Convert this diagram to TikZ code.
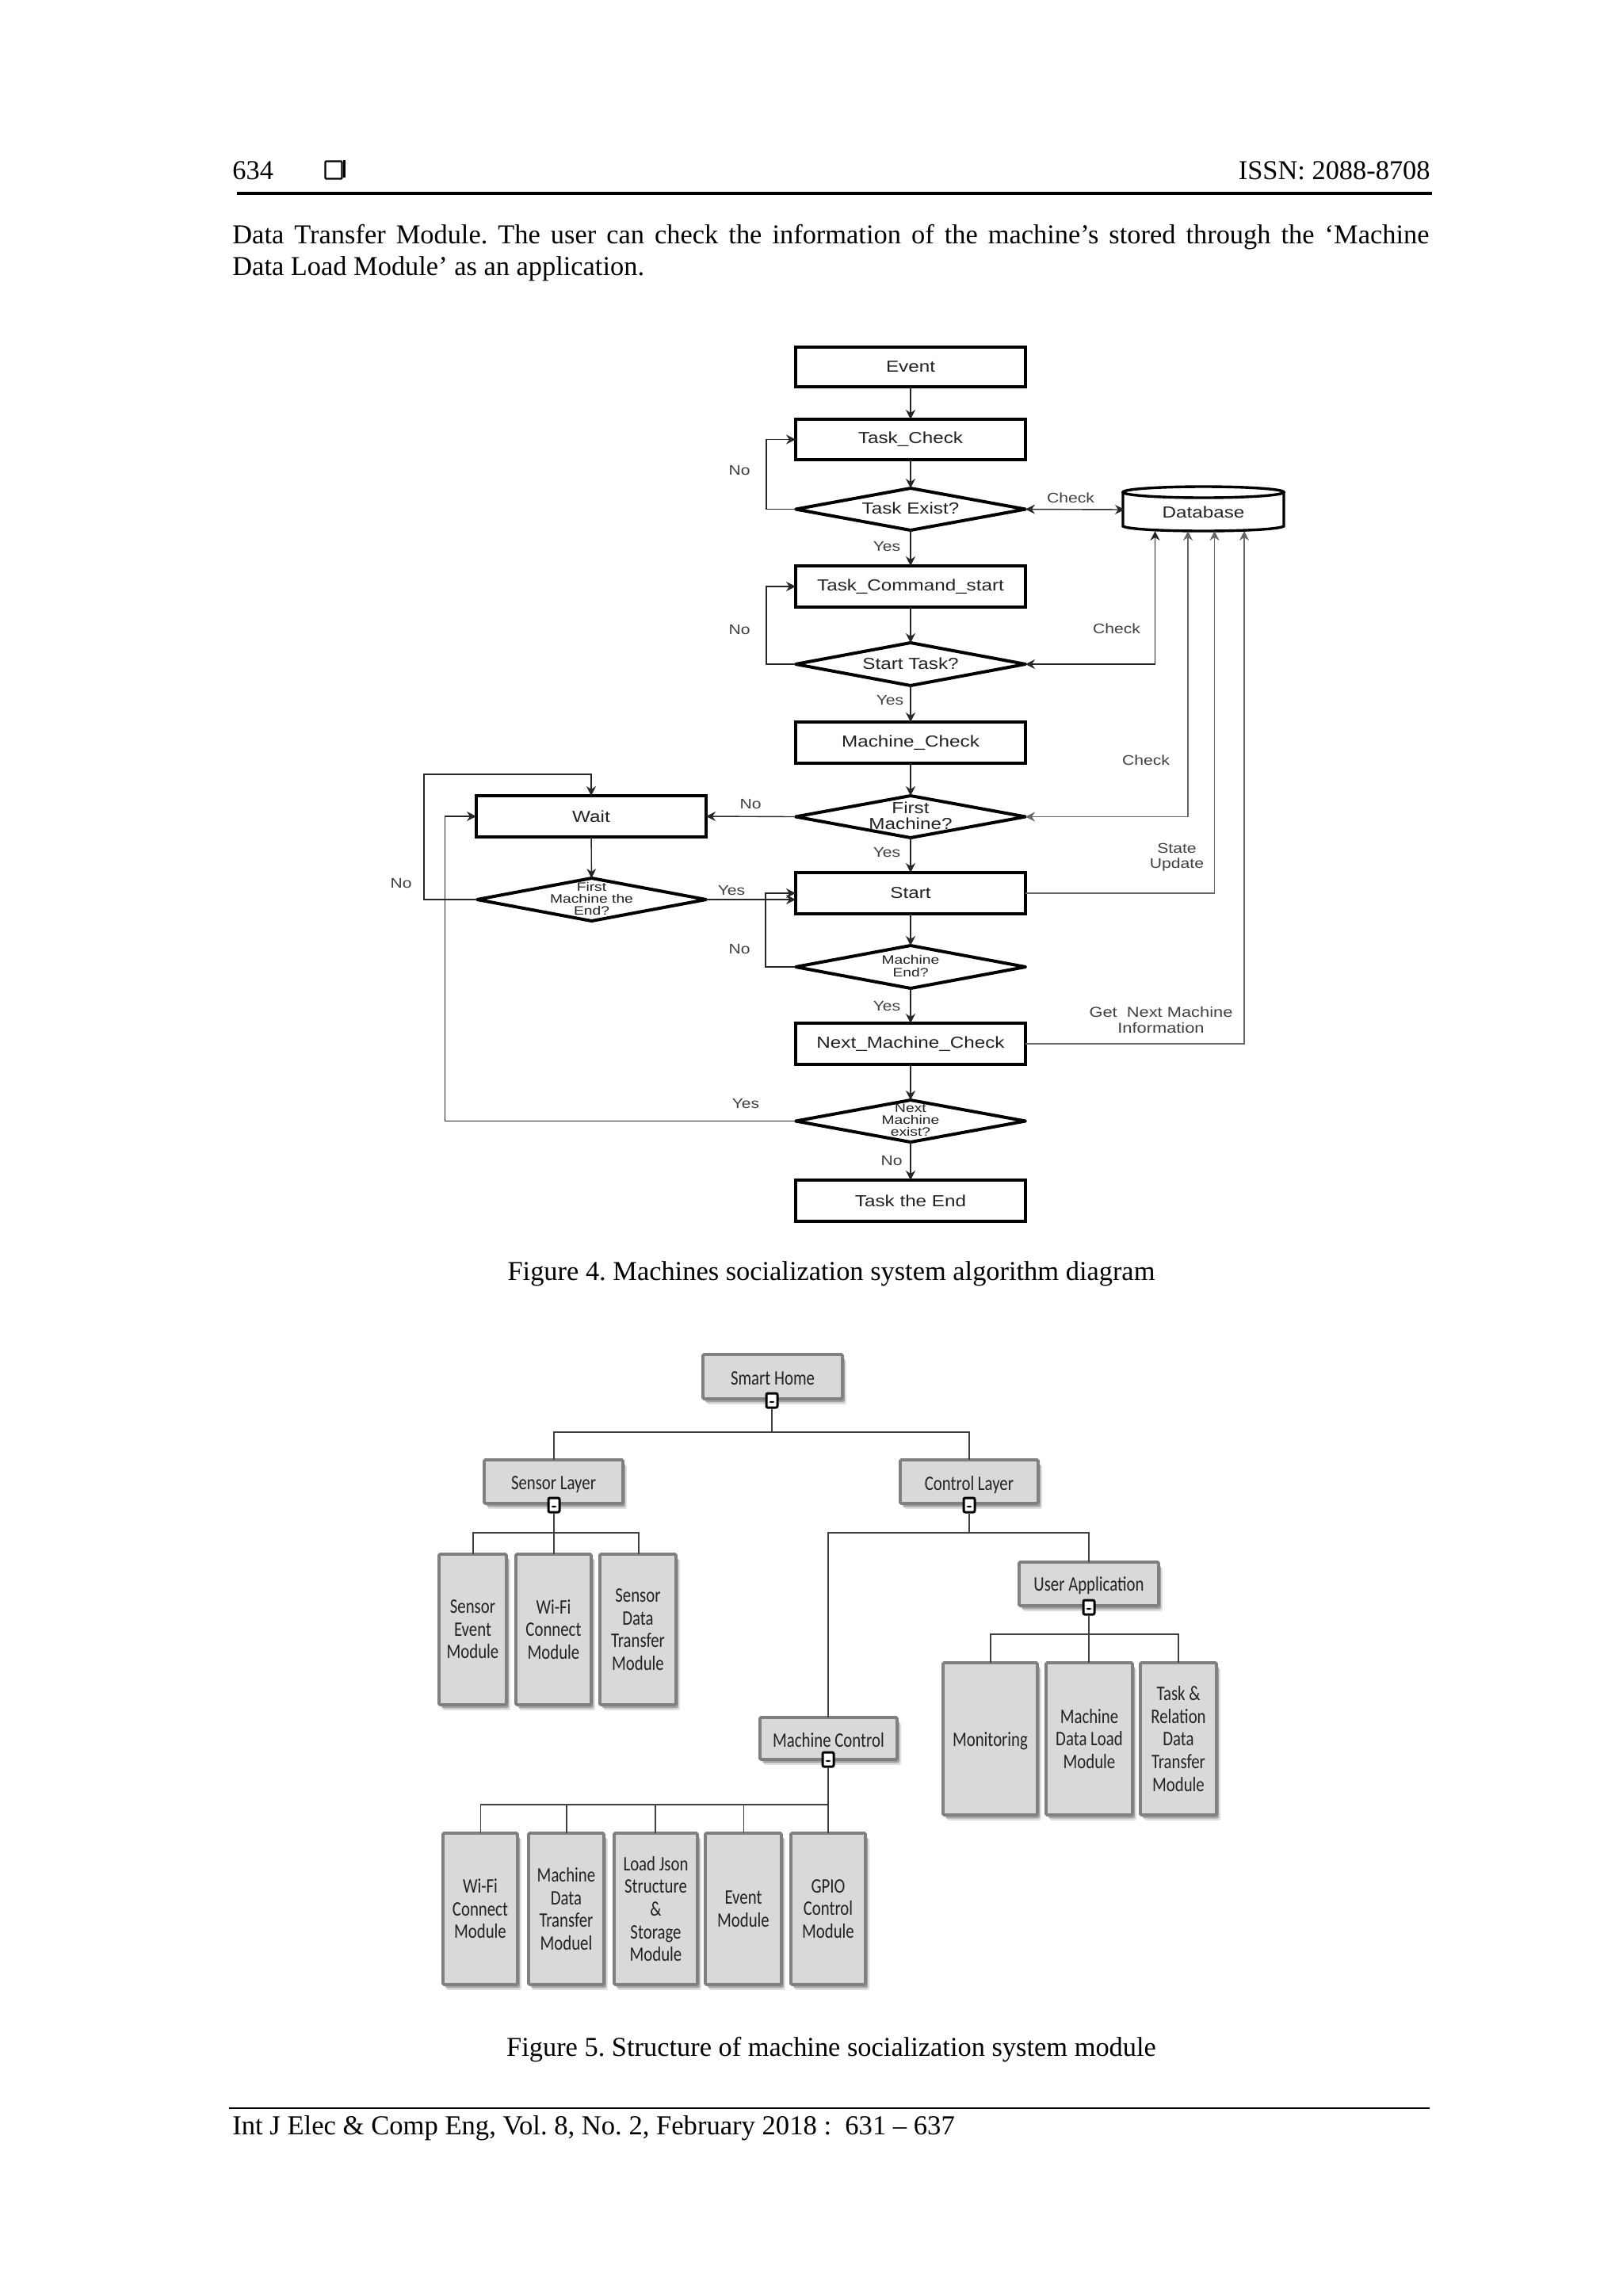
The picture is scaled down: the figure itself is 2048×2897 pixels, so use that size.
\documentclass[tikz,border=0pt]{standalone}
\usepackage{fontspec}
\usetikzlibrary{shapes.geometric,arrows.meta,shadows}
\setmainfont{Liberation Serif}
\newfontfamily\fflow[FakeStretch=1.2]{Liberation Sans}
\newfontfamily\fsmall[FakeStretch=1.25]{Liberation Sans}
\newfontfamily\fmod[FakeStretch=.8]{Carlito}
\definecolor{modfill}{HTML}{D9D9DB}
\definecolor{modline}{HTML}{808080}
\definecolor{ink}{HTML}{222222}
\newcommand{\dnn}[2]{\raisebox{0pt}[\dimexpr\height+#1*2\relax]{#2}}
\newcommand{\bxx}[7]{%
  \pgfmathsetmacro\bCX{(#3+#5)/2}\pgfmathsetmacro\bCY{(#4+#6)/2}%
  \pgfmathsetmacro\bW{(#5-#3)*0.5-2}\pgfmathsetmacro\bH{(#6-#4)*0.5-2}%
  \node[#1,minimum width=\bW pt,minimum height=\bH pt] (#2) at (\bCX,\bCY) {#7};}
\newcommand{\dmm}[7]{%
  \pgfmathsetmacro\bCX{(#3+#5)/2}\pgfmathsetmacro\bCY{(#4+#6)/2}%
  \pgfmathsetmacro\bW{(#5-#3)*0.5-2}\pgfmathsetmacro\bH{(#6-#4)*0.5-2}%
  \node[dmshape,minimum width=\bW pt,minimum height=\bH pt] (#2) at (\bCX,\bCY)
   {\makebox[0pt][c]{\smash{\raisebox{-.2em}{\parbox[c]{140pt}{\centering #1 #7}}}}};}
\tikzset{
  flowbox/.style={draw=black,line width=2.2pt,fill=white,inner sep=0pt,outer sep=0pt,align=center,font=\fflow\fontsize{10.1}{12}\selectfont,text=ink},
  dmshape/.style={diamond,draw=black,line width=2pt,line join=round,fill=white,inner sep=0pt,outer sep=0pt,text=ink},
  arr/.style={draw=black!85,line width=.7pt,-{Stealth[length=6pt,width=6pt,inset=2pt]}},
  darr/.style={arr,{Stealth[length=6pt,width=6pt,inset=2pt]}-{Stealth[length=6pt,width=6pt,inset=2pt]}},
  lab/.style={inner sep=0pt,align=center,text=black!75,font=\fflow\fontsize{8.8}{9.6}\selectfont},
  modbox/.style={draw=modline,line width=1.9pt,fill=modfill,inner sep=0pt,outer sep=0pt,align=center,text=ink,rounded corners=.8pt,
     font=\fmod\fontsize{13}{14.3}\selectfont,
     drop shadow={shadow xshift=2.4pt,shadow yshift=-3.4pt,opacity=.18,fill=black!70},
     drop shadow={shadow xshift=1.4pt,shadow yshift=-2.2pt,opacity=.4,fill=black!70}},
  modlink/.style={draw=black!75,line width=.75pt},
  handle/.style={draw=black,line width=1.5pt,fill=white,rounded corners=1pt,inner sep=0pt,minimum width=7pt,minimum height=9pt,
     path picture={\fill[black] ([xshift=-1.6pt,yshift=-.4pt]path picture bounding box.center) rectangle ([xshift=1.6pt,yshift=-1.5pt]path picture bounding box.center);}},
  page/.style={inner sep=0pt,font=\frenchspacing\fontsize{17.2}{20}\selectfont,text=black}
}
\begin{document}
\begin{tikzpicture}[x=0.5pt,y=-0.5pt]
\useasboundingbox[fill=white] (0,0) rectangle (2048,2897);
% page furniture
\node[page,anchor=base west] (pg) at (293,226) {634};
\node[draw=black,line width=1.1pt,fill=white,inner sep=0pt,minimum width=10.5pt,minimum height=11pt,rounded corners=.5pt] (sq) at (421,214.5) {};
\draw[black,line width=1.6pt] (sq.north east) ++(1pt,.3pt) -- ++(0,-11.3pt);
\node[page,anchor=base east] (issn) at (1805,226) {ISSN: 2088-8708};
\coordinate (r1a) at (299,244); \coordinate (r1b) at (1807,244);
\draw[black,line width=1.7pt] (r1a) -- (r1b);
\node[page,anchor=base west] (p1) at (293,307) {\makebox[755pt][s]{Data Transfer Module. The user can check the information of the machine’s stored through the ‘Machine}};
\node[page,anchor=base west] (p2) at (293,347) {Data Load Module’ as an application.};
\node[page,anchor=base] (c4) at (1049,1615) {Figure 4. Machines socialization system algorithm diagram};
\node[page,anchor=base] (c5) at (1049,2594) {Figure 5. Structure of machine socialization system module};
\coordinate (r2a) at (289,2660); \coordinate (r2b) at (1804,2660);
\draw[black,line width=1.1pt] (r2a) -- (r2b);
\node[page,anchor=base west,font=\frenchspacing\fontsize{17.3}{20}\selectfont] (ft) at (293,2693) {Int J Elec \& Comp Eng, Vol. 8, No. 2, February 2018 :\ \ 631 – 637};
% flow boxes
\bxx{flowbox}{ev}{1002}{436}{1296}{490}{Event}
\bxx{flowbox}{tc}{1002}{527}{1296}{582}{Task\_Check}
\dmm{\fflow\fontsize{10.1}{12}\selectfont}{te}{1002}{614}{1296}{671}{Task Exist?}
\bxx{flowbox}{tcs}{1002}{712}{1296}{768}{Task\_Command\_start}
\dmm{\fflow\fontsize{10.1}{12}\selectfont}{st}{1002}{809}{1296}{867}{Start Task?}
\bxx{flowbox}{mc}{1002}{909}{1296}{965}{Machine\_Check}
\dmm{\fflow\fontsize{10.1}{10}\selectfont}{fm}{1002}{1002}{1296}{1059}{First\\Machine?}
\bxx{flowbox}{wa}{599}{1002}{893}{1058}{Wait}
\dmm{\fsmall\fontsize{7.7}{7.6}\selectfont}{fe}{600}{1106}{893}{1164}{First\\Machine the\\End?}
\bxx{flowbox}{sa}{1002}{1099}{1296}{1155}{Start}
\dmm{\fsmall\fontsize{7.7}{7.6}\selectfont}{me}{1002}{1191}{1296}{1249}{Machine\\End?}
\bxx{flowbox}{nm}{1002}{1289}{1296}{1345}{Next\_Machine\_Check}
\dmm{\fsmall\fontsize{7.7}{7.6}\selectfont}{nx}{1002}{1386}{1296}{1443}{Next\\Machine\\exist?}
\bxx{flowbox}{en}{1002}{1487}{1296}{1543}{Task the End}
% database
\bxx{inner sep=0pt,outer sep=0pt,font=\fflow\fontsize{10.1}{12}\selectfont,text=ink}{db}{1417}{614}{1620}{672}{\dnn{1.5pt}{Database}}
\coordinate (dtl) at (1417,621); \coordinate (dtr) at (1620,621);
\coordinate (dbl) at (1417,664); \coordinate (dbr) at (1620,664);
\draw[black,line width=1.7pt] (1518.5,621) ellipse [x radius=50.75pt,y radius=3.5pt];
\draw[black,line width=1.7pt] (dtl) -- (dbl) .. controls (1432,672) and (1605,672) .. (dbr) -- (dtr);
% bend guides
\coordinate (lp1) at (967,0); \coordinate (lp2) at (966,0); \coordinate (lp3) at (535,977);
\coordinate (lp4) at (561.5,0);
\coordinate (a1) at (1457.5,0); \coordinate (a2) at (1499,0); \coordinate (a3) at (1532.5,0); \coordinate (a4) at (1570,0);
% flow connectors
\draw[arr] (ev) -- (tc);
\draw[arr] (tc) -- (te);
\draw[arr] (te) -- (tcs);
\draw[arr] (tcs) -- (st);
\draw[arr] (st) -- (mc);
\draw[arr] (mc) -- (fm);
\draw[arr] (fm) -- (sa);
\draw[arr] (sa) -- (me);
\draw[arr] (me) -- (nm);
\draw[arr] (nm) -- (nx);
\draw[arr] (nx) -- (en);
\draw[arr] (wa) -- (fe);
\draw[arr] (fm.west) -- (wa.east);
\draw[arr] (te.west) -- (lp1|-te.west) -- (lp1|-tc.west) -- (tc.west);
\draw[arr] (st.west) -- (lp1|-st.west) -- (lp1|-tcs.west) -- (tcs.west);
\draw[arr] (me.west) -- (lp2|-me.west) -- (lp2|-sa.west) -- (sa.west);
\draw[arr] (fe.east) -- ([yshift=-4pt]sa.west);
\draw[arr] (fe.west) -- (lp3|-fe.west) -- (lp3) -- (lp3-|wa.north) -- (wa.north);
\draw[arr] (nx.west) -- (lp4|-nx.west) -- (lp4|-wa.west) -- (wa.west);
\draw[darr] (te.east) -- (db.west);
\draw[darr] (st.east) -- (a1|-st.east) -- (a1|-db.south);
\draw[darr,draw=black!60] (fm.east) -- (a2|-fm.east) -- (a2|-db.south);
\draw[arr,draw=black!60] (sa.east) -- (a3|-sa.east) -- (a3|-db.south);
\draw[arr,draw=black!60] (nm.east) -- (a4|-nm.east) -- (a4|-db.south);
% flow labels
\node[lab] (l1) at (933,594) {No};
\node[lab] (l2) at (1119,690) {Yes};
\node[lab] (l3) at (1351,628) {Check};
\node[lab] (l4) at (933,795) {No};
\node[lab] (l5) at (1409,793) {Check};
\node[lab] (l6) at (1123,884) {Yes};
\node[lab] (l7) at (1446,959) {Check};
\node[lab] (l8) at (947,1015) {No};
\node[lab] (l9) at (1119,1076) {Yes};
\node[lab] (l10) at (1485,1082) {State\\Update};
\node[lab] (l11) at (506,1115) {No};
\node[lab] (l12) at (923,1124) {Yes};
\node[lab] (l13) at (933,1198) {No};
\node[lab] (l14) at (1119,1270) {Yes};
\node[lab,font=\fflow\fontsize{9.1}{9.6}\selectfont] (l15) at (1465,1287) {Get\ \ Next Machine\\Information};
\node[lab] (l16) at (941,1393) {Yes};
\node[lab] (l17) at (1125,1465) {No};
% module tree
\bxx{modbox}{sh}{885}{1707}{1065}{1767}{\dnn{1pt}{Smart Home}}
\bxx{modbox}{sl}{609}{1840}{788}{1899}{\dnn{2pt}{Sensor Layer}}
\bxx{modbox}{cl}{1134}{1840}{1312}{1899}{\dnn{2pt}{Control Layer}}
\bxx{modbox}{s1}{552}{1959}{641}{2153}{Sensor\\Event\\Module}
\bxx{modbox}{s2}{649}{1959}{748}{2153}{Wi-Fi\\Connect\\Module}
\bxx{modbox}{s3}{755}{1959}{855}{2153}{Sensor\\Data\\Transfer\\Module}
\bxx{modbox}{ua}{1284}{1969}{1464}{2028}{\dnn{1pt}{User Application}}
\bxx{modbox}{u1}{1188}{2096}{1311}{2292}{\dnn{1.5pt}{Monitoring}}
\bxx{modbox}{u2}{1318}{2096}{1431}{2292}{Machine\\Data Load\\Module}
\bxx{modbox}{u3}{1437}{2096}{1537}{2292}{Task \&\\Relation\\Data\\Transfer\\Module}
\bxx{modbox}{mco}{957}{2165}{1134}{2222}{\dnn{1pt}{Machine Control}}
\bxx{modbox}{m1}{557}{2311}{655}{2506}{Wi-Fi\\Connect\\Module}
\bxx{modbox}{m2}{665}{2311}{764}{2506}{Machine\\Data\\Transfer\\Moduel}
\bxx{modbox}{m3}{773}{2311}{882}{2506}{Load Json\\Structure\\\&\\Storage\\Module}
\bxx{modbox}{m4}{888}{2311}{988}{2506}{Event\\Module}
\bxx{modbox}{m5}{996}{2311}{1094}{2506}{GPIO\\Control\\Module}
% handles
\node[handle] (hsh) at (974,1767) {};
\node[handle] (hsl) at (699,1899) {};
\node[handle] (hcl) at (1223,1899) {};
\node[handle] (hua) at (1374,2028) {};
\node[handle] (hmc) at (1045,2220) {};
% tree connectors
\coordinate (b0) at (0,1807); \coordinate (b1) at (0,1934); \coordinate (b2) at (0,1934); \coordinate (b3) at (0,2062); \coordinate (b4) at (0,2277);
\coordinate (t1) at (597,0); \coordinate (t2) at (806,0);
\coordinate (t3) at (1250,0); \coordinate (t4) at (1487,0);
\coordinate (t5) at (1045,0);
\coordinate (t6) at (606.5,0); \coordinate (t7) at (715,0); \coordinate (t8) at (827,0); \coordinate (t9) at (938.5,0);
\draw[modlink] (hsh.south) -- (hsh.south|-b0);
\draw[modlink] (sl.north-|hsl) -- (hsl|-b0) -- (cl.north|-b0) -- (cl.north);
\draw[modlink] (hsl.south) -- (hsl.south|-s2.north);
\draw[modlink] (t1|-s1.north) -- (t1|-b1) -- (t2|-b1) -- (t2|-s3.north);
\draw[modlink] (hcl.south) -- (hcl.south|-b2);
\draw[modlink] (t5|-mco.north) -- (t5|-b2) -- (hua|-b2) -- (hua|-ua.north);
\draw[modlink] (hua.south) -- (hua.south|-u2.north);
\draw[modlink] (t3|-u1.north) -- (t3|-b3) -- (t4|-b3) -- (t4|-u3.north);
\draw[modlink] (hmc.south) -- (hmc.south|-m5.north);
\draw[modlink] (t6|-m1.north) -- (t6|-b4) -- (hmc.south|-b4);
\draw[modlink] (t7|-m2.north) -- (t7|-b4);
\draw[modlink] (t8|-m3.north) -- (t8|-b4);
\draw[modlink] (t9|-m4.north) -- (t9|-b4);
\end{tikzpicture}
\end{document}
